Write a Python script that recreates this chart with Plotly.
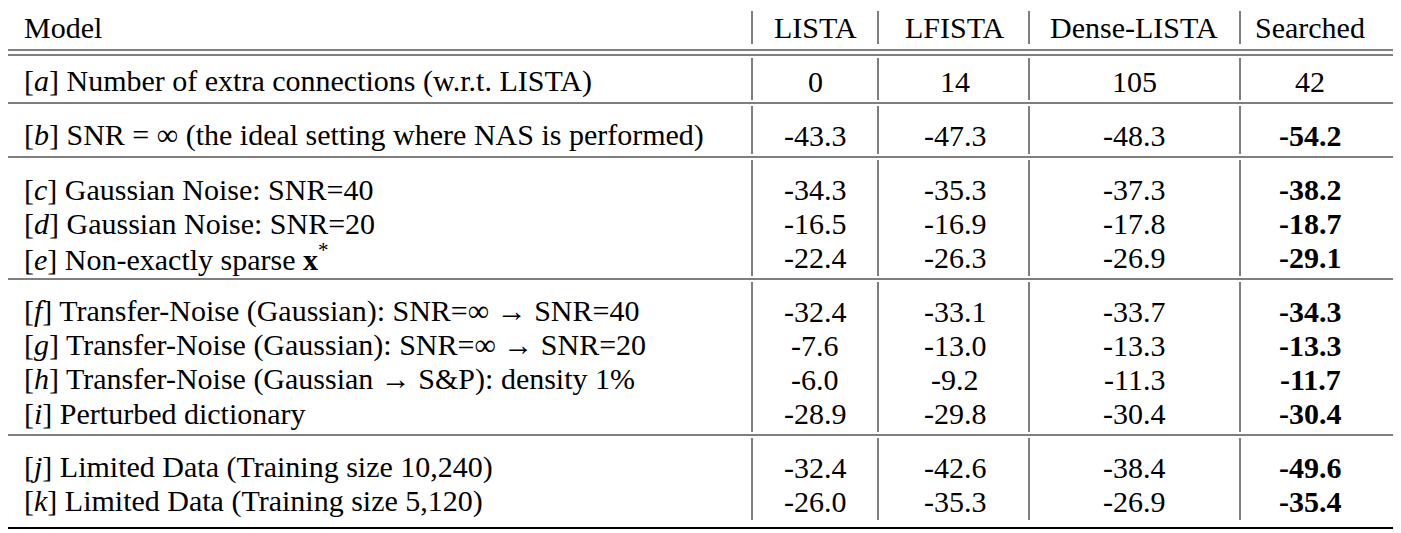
import plotly.graph_objects as go

columns = ["LISTA", "LFISTA", "Dense-LISTA", "Searched"]
row_labels = [
    "[<i>a</i>] Number of extra connections (w.r.t. LISTA)",
    "[<i>b</i>] SNR = ∞ (the ideal setting where NAS is performed)",
    "[<i>c</i>] Gaussian Noise: SNR=40",
    "[<i>d</i>] Gaussian Noise: SNR=20",
    "[<i>e</i>] Non-exactly sparse <b>x</b><sup>*</sup>",
    "[<i>f</i>] Transfer-Noise (Gaussian): SNR=∞ → SNR=40",
    "[<i>g</i>] Transfer-Noise (Gaussian): SNR=∞ → SNR=20",
    "[<i>h</i>] Transfer-Noise (Gaussian → S&P): density 1%",
    "[<i>i</i>] Perturbed dictionary",
    "[<i>j</i>] Limited Data (Training size 10,240)",
    "[<i>k</i>] Limited Data (Training size 5,120)",
]
lista = ["0", "-43.3", "-34.3", "-16.5", "-22.4", "-32.4", "-7.6", "-6.0", "-28.9", "-32.4", "-26.0"]
lfista = ["14", "-47.3", "-35.3", "-16.9", "-26.3", "-33.1", "-13.0", "-9.2", "-29.8", "-42.6", "-35.3"]
dense = ["105", "-48.3", "-37.3", "-17.8", "-26.9", "-33.7", "-13.3", "-11.3", "-30.4", "-38.4", "-26.9"]
searched = ["42", "-54.2", "-38.2", "-18.7", "-29.1", "-34.3", "-13.3", "-11.7", "-30.4", "-49.6", "-35.4"]
groups = [1, 1, 3, 4, 2]  # rows per group

W, H = 1401, 533
OFF = 8  # page body margin
FONT = dict(family="Liberation Serif, Times New Roman, serif", size=30, color="black")
col_x = [815, 955, 1134, 1310]
sep_x = [752, 878, 1029, 1240]

fig = go.Figure()
ann = []
shapes = []

def hline(y, w):
    shapes.append(dict(type="line", x0=4, x1=W - 4, y0=y, y1=y, line=dict(color="black", width=w)))

def vlines(y0, y1):
    for sx in sep_x:
        shapes.append(dict(type="line", x0=sx, x1=sx, y0=y0, y1=y1, line=dict(color="black", width=1)))

header_y = 27
ann.append(dict(x=22, y=header_y, text="Model", xanchor="left"))
for cx, c in zip(col_x, columns):
    ann.append(dict(x=cx, y=header_y, text=c, xanchor="center"))
hline(3, 2.2)
vlines(11, 44)
hline(50, 1)
hline(55, 1)

y = 81
ri = 0
prev_rule = 55
for gi, n in enumerate(groups):
    for k in range(n):
        ann.append(dict(x=22, y=y, text=row_labels[ri], xanchor="left"))
        vals = [lista[ri], lfista[ri], dense[ri], searched[ri]]
        for j, (cx, v) in enumerate(zip(col_x, vals)):
            t = f"<b>{v}</b>" if (j == 3 and ri > 0) else v
            ann.append(dict(x=cx, y=y, text=t, xanchor="center"))
        ri += 1
        y += 34
    rule_y = y - 34 + 22
    vlines(prev_rule + 3, rule_y - 3)
    if gi < len(groups) - 1:
        hline(rule_y, 1)
    else:
        hline(528, 2.2)
    prev_rule = rule_y
    y += 20

for a in ann:
    a.update(xref="x", yref="y", yanchor="middle", showarrow=False, font=FONT)

fig.add_trace(go.Scatter(x=[0, W], y=[0, H], mode="markers", marker=dict(opacity=0), hoverinfo="skip"))
fig.update_layout(
    width=W, height=H, margin=dict(l=0, r=0, t=0, b=0),
    plot_bgcolor="white", paper_bgcolor="white", showlegend=False,
    xaxis=dict(range=[OFF, W + OFF], visible=False, fixedrange=True),
    yaxis=dict(range=[H + OFF, OFF], visible=False, fixedrange=True),
    annotations=ann, shapes=shapes,
)
fig.write_html("out.html")
